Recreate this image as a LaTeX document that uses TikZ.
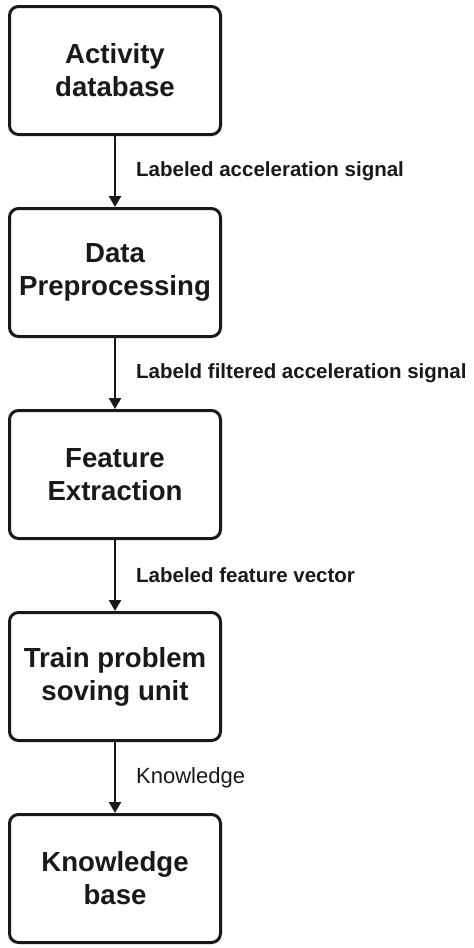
\documentclass[tikz,border=0pt]{standalone}
\usepackage{fontspec}
\setmainfont{Liberation Sans}
\usetikzlibrary{positioning,arrows.meta}

\begin{document}
\begin{tikzpicture}[x=1pt,y=-1pt,node distance=71pt,
	blok/.style={draw=black!90,line width=3pt,rounded corners=9pt,minimum width=211pt,minimum height=128pt,inner sep=0pt,align=center,text=black!90,font=\fontsize{27.6}{33}\selectfont\bfseries},
	flow/.style={draw=black!90,line width=2.4pt,-{Triangle[width=12pt,length=11pt]}},
	lab/.style={right=20pt,inner sep=0pt,text=black!90,font=\fontsize{20.5}{24}\selectfont\bfseries}]
			\useasboundingbox (0,0) rectangle (474,948);
			\node[blok] (adb) at (115,70.5) {Activity\\database};
			\node[blok,below=of adb] (prep) {Data\\Preprocessing};
			\node[blok,below=of prep] (feat) {Feature\\Extraction};
			\node[blok,below=of feat] (train) {Train problem\\soving unit};
			\node[blok,below=of train] (kbase) {Knowledge\\base};
			\draw[flow] (adb) -- node[lab] {Labeled acceleration signal} (prep);
			\draw[flow] (prep) -- node[lab] {Labeld filtered acceleration signal} (feat);
			\draw[flow] (feat) -- node[lab] {Labeled feature vector} (train);
			\draw[flow] (train) -- node[lab,font=\fontsize{22}{26}\selectfont] {Knowledge} (kbase);
		\end{tikzpicture}
\end{document}
